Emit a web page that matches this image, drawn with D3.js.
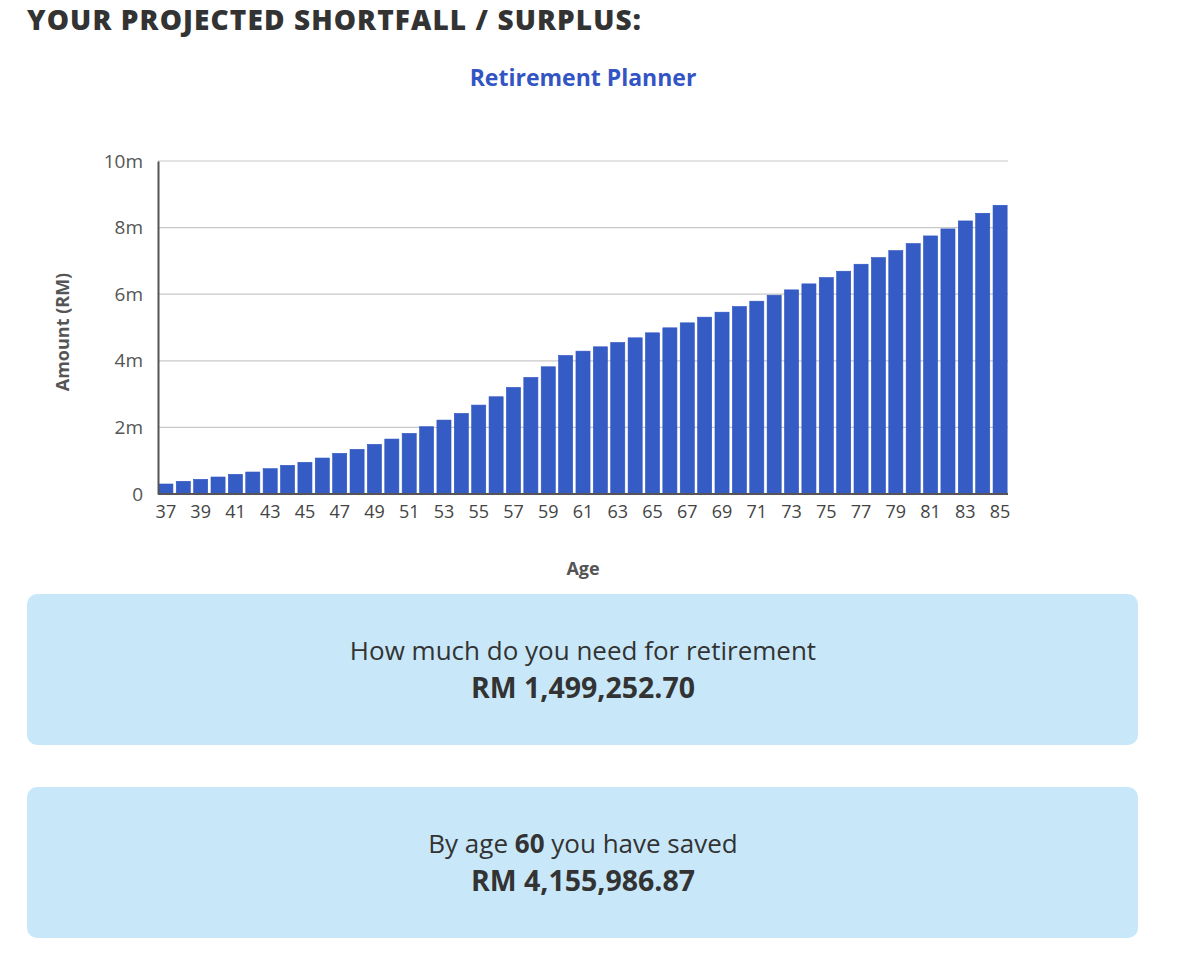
<!DOCTYPE html>
<html>
<head>
<meta charset="utf-8">
<script src="https://cdn.jsdelivr.net/npm/d3@7"></script>
<style>
  html, body { margin: 0; padding: 0; background: #fff; }
  svg { display: block; font-family: "Open Sans", sans-serif; }
</style>
</head>
<body>
<svg id="chart" width="1200" height="962"></svg>
<script>
const ages = d3.range(37, 86);
const amounts = [
  0.30, 0.38, 0.44, 0.51, 0.59, 0.66, 0.76, 0.86, 0.95, 1.08,
  1.22, 1.34, 1.49, 1.65, 1.82, 2.02, 2.22, 2.42, 2.67, 2.92,
  3.20, 3.50, 3.82, 4.16, 4.29, 4.42, 4.55, 4.69, 4.84, 4.99,
  5.14, 5.31, 5.46, 5.63, 5.79, 5.97, 6.13, 6.31, 6.50, 6.69,
  6.90, 7.10, 7.31, 7.52, 7.75, 7.96, 8.20, 8.43, 8.67
].map(v => v * 1e6);
const yTicks = [0, 2e6, 4e6, 6e6, 8e6, 10e6];
const xTickLabels = ages.filter(a => (a - 37) % 2 === 0);
const pageTitle = "YOUR PROJECTED SHORTFALL / SURPLUS:";
const chartTitle = "Retirement Planner";
const yTitle = "Amount (RM)";
const xTitle = "Age";
const boxes = [
  { line1: ["How much do you need for retirement"], value: "RM 1,499,252.70" },
  { line1: ["By age ", "60", " you have saved"], value: "RM 4,155,986.87" }
];

const svg = d3.select("#chart");
const plotL = 158, plotR = 1008, plotT = 161, plotB = 494;

svg.append("text").attr("x", 27).attr("y", 30)
  .attr("font-size", 28).attr("font-weight", 800).attr("fill", "#333")
  .attr("letter-spacing", 1.1)
  .text(pageTitle);

svg.append("text").attr("x", 583).attr("y", 86).attr("text-anchor", "middle")
  .attr("font-size", 23).attr("font-weight", 700).attr("fill", "#3355c4")
  .text(chartTitle);

const x = d3.scaleBand().domain(ages).range([plotL, plotR]).paddingInner(0.19).paddingOuter(0.05);
const y = d3.scaleLinear().domain([0, 10e6]).range([plotB, plotT]);

// gridlines
svg.append("g").selectAll("line").data(yTicks.filter(t => t > 0)).join("line")
  .attr("x1", plotL).attr("x2", plotR)
  .attr("y1", d => y(d)).attr("y2", d => y(d))
  .attr("stroke", "#c8c8c8").attr("stroke-width", 1.2);

// bars
svg.append("g").selectAll("rect").data(ages).join("rect")
  .attr("x", d => x(d)).attr("width", x.bandwidth())
  .attr("y", (d, i) => y(amounts[i]))
  .attr("height", (d, i) => y(0) - y(amounts[i]))
  .attr("fill", "#355cc5").attr("stroke", "#2c52c0").attr("stroke-width", 0.6);

// axes
const yAxis = d3.axisLeft(y).tickValues(yTicks).tickSize(0).tickPadding(15)
  .tickFormat(d => d === 0 ? "0" : (d / 1e6) + "m");
const gy = svg.append("g").attr("transform", `translate(${plotL},0)`).call(yAxis);
gy.select(".domain").attr("stroke", "#555").attr("stroke-width", 2);
gy.selectAll("text").attr("font-size", 19).attr("fill", "#555")
  .attr("font-family", "Open Sans, sans-serif");

const xAxis = d3.axisBottom(x).tickValues(xTickLabels).tickSize(0).tickPadding(11)
  .tickSizeOuter(0);
const gx = svg.append("g").attr("transform", `translate(0,${plotB})`).call(xAxis);
gx.select(".domain").attr("stroke", "#555").attr("stroke-width", 2)
  .attr("d", `M${plotL},0H${plotR}`);
gx.selectAll("text").attr("font-size", 18).attr("fill", "#444")
  .attr("font-family", "Open Sans, sans-serif");

svg.append("text").attr("transform", `translate(69,332) rotate(-90)`)
  .attr("text-anchor", "middle").attr("font-size", 18).attr("font-weight", 700)
  .attr("fill", "#555").text(yTitle);
svg.append("text").attr("x", 583).attr("y", 575).attr("text-anchor", "middle")
  .attr("font-size", 18).attr("font-weight", 700).attr("fill", "#555").text(xTitle);

// info boxes
const boxTops = [594, 787];
boxes.forEach((b, i) => {
  const g = svg.append("g").attr("transform", `translate(27,${boxTops[i]})`);
  g.append("rect").attr("width", 1111).attr("height", 151).attr("rx", 10)
    .attr("fill", "#c8e8f9");
  const t = g.append("text").attr("x", 556).attr("y", 66).attr("text-anchor", "middle")
    .attr("font-size", 26).attr("fill", "#333");
  b.line1.forEach((s, j) => t.append("tspan").attr("font-weight", j === 1 ? 700 : 400).text(s));
  g.append("text").attr("x", 556).attr("y", 104).attr("text-anchor", "middle")
    .attr("font-size", 28.5).attr("font-weight", 700).attr("fill", "#333").text(b.value);
});
</script>
</body>
</html>
